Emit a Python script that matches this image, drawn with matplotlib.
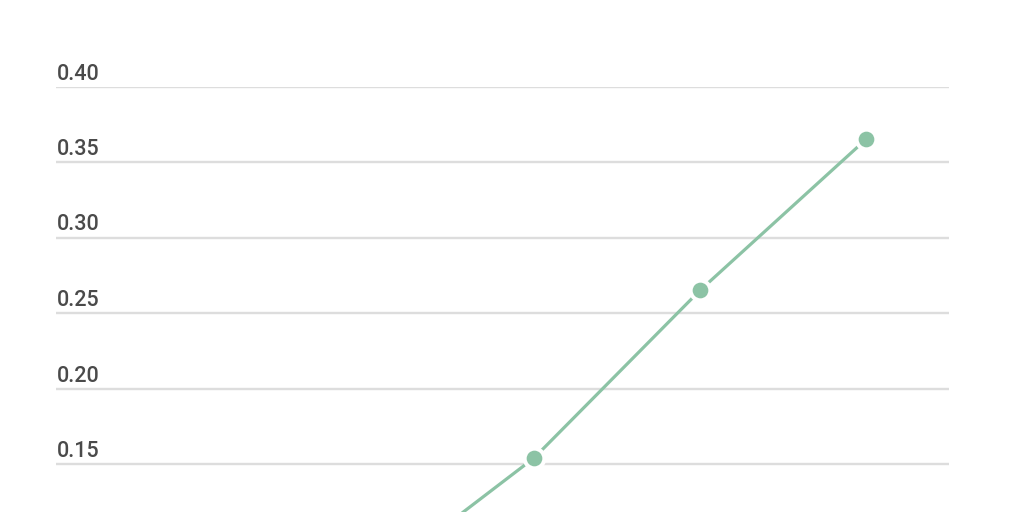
import numpy as np
import matplotlib
matplotlib.use("Agg")
import matplotlib.pyplot as plt

# values (first point lies below the visible area)
x_pos = [1, 2, 3, 4]
values = [0.070, 0.154, 0.265, 0.365]
y_ticks = [0.15, 0.20, 0.25, 0.30, 0.35, 0.40]
y_labels = ["0.15", "0.20", "0.25", "0.30", "0.35", "0.40"]

line_color = "#8cc3a5"
grid_color = "#dddddd"
text_color = "#4a4a4a"

plt.rcParams["font.family"] = ["Roboto", "DejaVu Sans"]

W, H = 1024, 512
fig = plt.figure(figsize=(W / 100, H / 100), dpi=100)

# plot area runs off the bottom of the image, as in the reference
left_px, right_px = 56, 949
top_px, bottom_px = 86.5, 690.5
ax = fig.add_axes([left_px / W, 1 - bottom_px / H,
                   (right_px - left_px) / W, (bottom_px - top_px) / H])
ax.set_xlim(-0.88, 4.5)
ax.set_ylim(0, 0.40)

for t, lab in zip(y_ticks, y_labels):
    ax.axhline(t, color=grid_color, lw=1.7, zorder=1)
    ax.annotate(lab, xy=(0, t), xycoords=("axes fraction", "data"),
                xytext=(1, 7), textcoords="offset pixels",
                ha="left", va="baseline", fontsize=15.5,
                fontweight="medium", color=text_color)

ax.plot(x_pos, values, color=line_color, lw=2.3, zorder=2,
        solid_capstyle="butt")
ax.plot(x_pos, values, ls="none", marker="o", ms=17, mfc="white",
        mec="none", zorder=3, clip_on=False)
ax.plot(x_pos, values, ls="none", marker="o", ms=11.3, mfc=line_color,
        mec="none", zorder=4, clip_on=False)

ax.axis("off")
fig.savefig("out.png", dpi=100)
